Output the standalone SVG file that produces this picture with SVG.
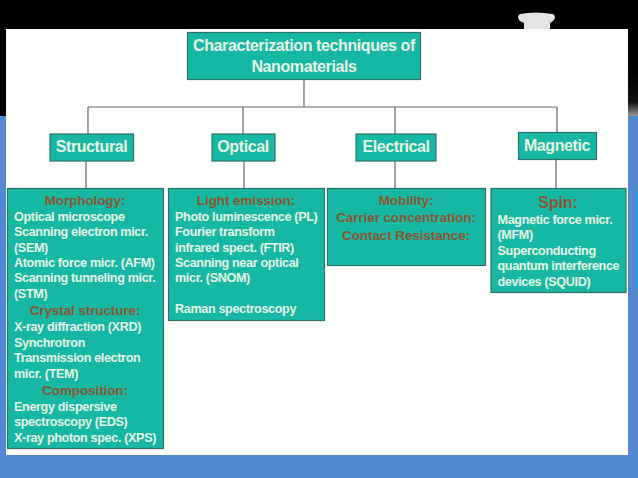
<svg xmlns="http://www.w3.org/2000/svg" width="638" height="478" viewBox="0 0 638 478">
<style>
.box{fill:#17b8a3;stroke:#2f6f6a;stroke-width:1.2}
.conn{fill:none;stroke:#666;stroke-width:1.2}
text{font-family:"Liberation Sans",Arial,sans-serif;font-weight:bold}
.h{fill:#e6f6e4;font-size:16px;letter-spacing:-0.4px;text-anchor:middle}
.t{fill:#e6f6e4;font-size:12.6px;letter-spacing:-0.35px}
.r{fill:#8a5632;font-size:13.5px;letter-spacing:-0.1px;text-anchor:middle}
</style>
<defs><linearGradient id="fade" x1="0" y1="0" x2="0" y2="1"><stop offset="0" stop-color="#000"/><stop offset="0.7" stop-color="#111"/><stop offset="1" stop-color="#999"/></linearGradient></defs>
<rect width="638" height="478" fill="#5388d2"/>
<rect width="638" height="116" fill="#000"/>
<rect x="628" y="70" width="10" height="46" fill="url(#fade)"/>
<path d="M520 14Q535 11 553 14Q557 17 553 21L550 23V29H524V23L520 21Q516 17 520 14Z" fill="#e4e4e4"/>
<rect x="6" y="29" width="622" height="426" fill="#fff"/>
<g id="connectors">
<path class="conn" d="M304 80V107M88 107H557M88 107V134M243 107V134M395 107V134M557 107V132M86 161V188M244 161V188M395 161V188M556 160V188"/>
</g>
<g id="root"><rect class="box" x="187.500" y="32.500" width="233" height="47"/><text class="h" x="304" y="51">Characterization techniques of</text><text class="h" x="304" y="72">Nanomaterials</text></g>
<g id="structural"><rect class="box" x="50" y="134" width="83.500" height="27"/><text class="h" x="91.500" y="152">Structural</text></g>
<g id="optical"><rect class="box" x="212" y="134" width="63" height="27"/><text class="h" x="243" y="152">Optical</text></g>
<g id="electrical"><rect class="box" x="356" y="134" width="80" height="27"/><text class="h" x="396" y="152">Electrical</text></g>
<g id="magnetic"><rect class="box" x="518.500" y="132.500" width="78" height="27"/><text class="h" x="557" y="151">Magnetic</text></g>
<g id="structural-detail"><rect class="box" x="7.500" y="188.500" width="156" height="260"/>
<text class="r" x="85" y="205">Morphology:</text>
<text class="t" x="14" y="221">Optical microscope</text>
<text class="t" x="14" y="236">Scanning electron micr.</text>
<text class="t" x="14" y="252">(SEM)</text>
<text class="t" x="14" y="267">Atomic force micr. (AFM)</text>
<text class="t" x="14" y="282">Scanning tunneling micr.</text>
<text class="t" x="14" y="298">(STM)</text>
<text class="r" x="85" y="315">Crystal structure:</text>
<text class="t" x="14" y="331">X-ray diffraction (XRD)</text>
<text class="t" x="14" y="347">Synchrotron</text>
<text class="t" x="14" y="362">Transmission electron</text>
<text class="t" x="14" y="378">micr. (TEM)</text>
<text class="r" x="85" y="395">Composition:</text>
<text class="t" x="14" y="411">Energy dispersive</text>
<text class="t" x="14" y="426">spectroscopy (EDS)</text>
<text class="t" x="14" y="442">X-ray photon spec. (XPS)</text></g>
<g id="optical-detail"><rect class="box" x="168.500" y="188.500" width="156" height="132"/>
<text class="r" x="246" y="205">Light emission:</text>
<text class="t" x="175" y="221">Photo luminescence (PL)</text>
<text class="t" x="175" y="236">Fourier transform</text>
<text class="t" x="175" y="252">infrared spect. (FTIR)</text>
<text class="t" x="175" y="267">Scanning near optical</text>
<text class="t" x="175" y="282">micr. (SNOM)</text>
<text class="t" x="175" y="313">Raman spectroscopy</text></g>
<g id="electrical-detail"><rect class="box" x="327.500" y="188.500" width="158" height="77"/>
<text class="r" x="406" y="205">Mobility:</text>
<text class="r" x="406" y="222">Carrier concentration:</text>
<text class="r" x="406" y="240">Contact Resistance:</text></g>
<g id="magnetic-detail"><rect class="box" x="491" y="188.500" width="135" height="104"/>
<text class="r" x="558" y="208" style="font-size:16px">Spin:</text>
<text class="t" x="497.500" y="224">Magnetic force micr.</text>
<text class="t" x="497.500" y="239">(MFM)</text>
<text class="t" x="497.500" y="255">Superconducting</text>
<text class="t" x="497.500" y="270">quantum interference</text>
<text class="t" x="497.500" y="286">devices (SQUID)</text></g>
</svg>
